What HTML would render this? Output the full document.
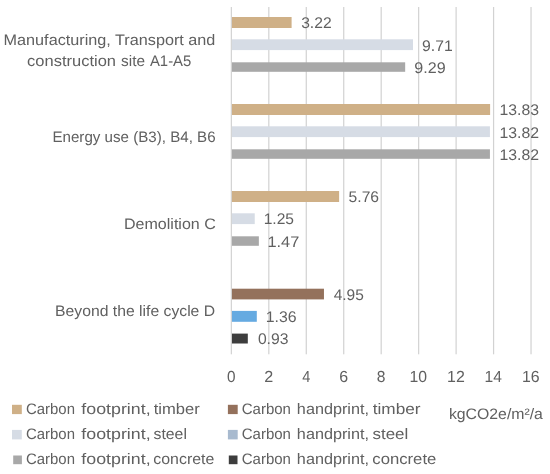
<!DOCTYPE html>
<html lang="en">
<head>
<meta charset="utf-8">
<title>Carbon footprint and handprint chart</title>
<style>
html,body{margin:0;padding:0;background:#ffffff;}
body{width:550px;height:474px;overflow:hidden;}
svg{display:block;}
svg text{font-family:"Liberation Sans", sans-serif;font-size:15.2px;fill:#606060;text-rendering:geometricPrecision;}
</style>
</head>
<body>
<svg width="550" height="474" viewBox="0 0 550 474">
<rect width="550" height="474" fill="#ffffff"/>
<rect x="230.75" y="7.0" width="1.2" height="347.3" fill="#d2d2d2"/>
<rect x="268.21" y="7.0" width="1.2" height="347.3" fill="#d2d2d2"/>
<rect x="305.67" y="7.0" width="1.2" height="347.3" fill="#d2d2d2"/>
<rect x="343.13" y="7.0" width="1.2" height="347.3" fill="#d2d2d2"/>
<rect x="380.59" y="7.0" width="1.2" height="347.3" fill="#d2d2d2"/>
<rect x="418.05" y="7.0" width="1.2" height="347.3" fill="#d2d2d2"/>
<rect x="455.51" y="7.0" width="1.2" height="347.3" fill="#d2d2d2"/>
<rect x="492.97" y="7.0" width="1.2" height="347.3" fill="#d2d2d2"/>
<rect x="530.43" y="7.0" width="1.2" height="347.3" fill="#d2d2d2"/>
<rect x="231.95" y="17.00" width="59.65" height="11.00" fill="#cfb087"/>
<rect x="231.95" y="39.30" width="181.07" height="10.80" fill="#d6dce5"/>
<rect x="231.95" y="62.30" width="173.22" height="9.50" fill="#a8a8a8"/>
<rect x="231.95" y="104.00" width="258.16" height="11.00" fill="#cfb087"/>
<rect x="231.95" y="126.30" width="257.97" height="10.80" fill="#d6dce5"/>
<rect x="231.95" y="149.30" width="257.97" height="9.50" fill="#a8a8a8"/>
<rect x="231.95" y="191.00" width="107.17" height="11.00" fill="#cfb087"/>
<rect x="231.95" y="213.30" width="22.79" height="10.80" fill="#d6dce5"/>
<rect x="231.95" y="236.30" width="26.90" height="9.50" fill="#a8a8a8"/>
<rect x="231.95" y="288.70" width="92.01" height="10.70" fill="#94715c"/>
<rect x="231.95" y="310.90" width="24.85" height="10.90" fill="#65aae1"/>
<rect x="231.95" y="333.60" width="15.86" height="9.90" fill="#3d3d3d"/>
<rect x="12.0" y="404.8" width="9.8" height="9.3" fill="#cfb087"/>
<rect x="12.0" y="429.9" width="9.8" height="9.5" fill="#d6dce5"/>
<rect x="13.2" y="455.5" width="8.7" height="8.7" fill="#a8a8a8"/>
<rect x="227.9" y="404.8" width="9.8" height="9.3" fill="#94715c"/>
<rect x="227.9" y="429.9" width="9.8" height="9.5" fill="#a8bacf"/>
<rect x="228.8" y="455.5" width="8.7" height="8.7" fill="#3d3d3d"/>
<g>
<text transform="translate(3.56,44.70) scale(1.0677,1)">Manufacturing, Transport and</text>
<text transform="translate(27.09,65.70) scale(1.0859,1)">construction</text>
<text transform="translate(121.10,65.70) scale(1.0141,1)">site</text>
<text transform="translate(149.93,65.70) scale(0.9801,1)">A1-A5</text>
</g>
<text transform="translate(52.45,142.00) scale(0.9960,1)">Energy use (B3), B4, B6</text>
<text transform="translate(123.98,229.00) scale(1.0560,1)">Demolition C</text>
<text transform="translate(55.10,315.70) scale(1.0357,1)">Beyond the life cycle D</text>
<text style="font-size:15.4px" transform="translate(301.16,28.40) scale(1.0158,1)">3.22</text>
<text style="font-size:15.4px" transform="translate(422.06,50.80) scale(1.0240,1)">9.71</text>
<text style="font-size:15.4px" transform="translate(414.34,72.90) scale(1.0444,1)">9.29</text>
<text style="font-size:15.4px" transform="translate(499.45,115.20) scale(1.0259,1)">13.83</text>
<text style="font-size:15.4px" transform="translate(499.45,137.70) scale(1.0283,1)">13.82</text>
<text style="font-size:15.4px" transform="translate(499.45,159.80) scale(1.0283,1)">13.82</text>
<text style="font-size:15.4px" transform="translate(348.61,202.00) scale(1.0165,1)">5.76</text>
<text style="font-size:15.4px" transform="translate(263.67,224.40) scale(1.0135,1)">1.25</text>
<text style="font-size:15.4px" transform="translate(267.41,246.50) scale(1.0621,1)">1.47</text>
<text style="font-size:15.4px" transform="translate(333.64,299.60) scale(1.0076,1)">4.95</text>
<text style="font-size:15.4px" transform="translate(265.75,322.00) scale(1.0289,1)">1.36</text>
<text style="font-size:15.4px" transform="translate(257.88,343.70) scale(1.0210,1)">0.93</text>
<g>
<text transform="translate(26.01,413.60) scale(0.9820,1)">Carbon</text>
<text transform="translate(81.34,413.60) scale(1.1715,1)">footprint,</text>
<text transform="translate(153.74,413.60) scale(1.0906,1)">timber</text>
</g>
<g>
<text transform="translate(26.01,438.50) scale(0.9820,1)">Carbon</text>
<text transform="translate(81.34,438.50) scale(1.1715,1)">footprint,</text>
<text transform="translate(153.49,438.50) scale(1.0419,1)">steel</text>
</g>
<g>
<text transform="translate(26.01,463.70) scale(0.9820,1)">Carbon</text>
<text transform="translate(81.34,463.70) scale(1.1715,1)">footprint,</text>
<text transform="translate(153.31,463.70) scale(1.0467,1)">concrete</text>
</g>
<g>
<text transform="translate(241.71,413.60) scale(0.9882,1)">Carbon</text>
<text transform="translate(296.87,413.60) scale(1.0675,1)">handprint,</text>
<text transform="translate(372.73,413.60) scale(1.1314,1)">timber</text>
</g>
<g>
<text transform="translate(241.71,438.50) scale(0.9882,1)">Carbon</text>
<text transform="translate(296.87,438.50) scale(1.0675,1)">handprint,</text>
<text transform="translate(372.45,438.50) scale(1.1170,1)">steel</text>
</g>
<g>
<text transform="translate(241.71,463.70) scale(0.9882,1)">Carbon</text>
<text transform="translate(296.87,463.70) scale(1.0675,1)">handprint,</text>
<text transform="translate(372.28,463.70) scale(1.0993,1)">concrete</text>
</g>
<text transform="translate(448.93,418.60) scale(1.0406,1)">kgCO2e/m²/a</text>
<text style="font-size:16.0px" transform="translate(227.09,381.60) scale(0.9576,1)">0</text>
<text style="font-size:16.0px" transform="translate(264.30,381.60) scale(1.0084,1)">2</text>
<text style="font-size:16.0px" transform="translate(302.28,381.60) scale(0.9081,1)">4</text>
<text style="font-size:16.0px" transform="translate(339.23,381.60) scale(0.9964,1)">6</text>
<text style="font-size:16.0px" transform="translate(376.85,381.60) scale(0.9762,1)">8</text>
<text style="font-size:16.0px" transform="translate(409.58,381.60) scale(0.9847,1)">10</text>
<text style="font-size:16.0px" transform="translate(447.02,381.60) scale(0.9957,1)">12</text>
<text style="font-size:16.0px" transform="translate(484.51,381.60) scale(0.9747,1)">14</text>
<text style="font-size:16.0px" transform="translate(521.95,381.60) scale(0.9915,1)">16</text>
</svg>
</body>
</html>
